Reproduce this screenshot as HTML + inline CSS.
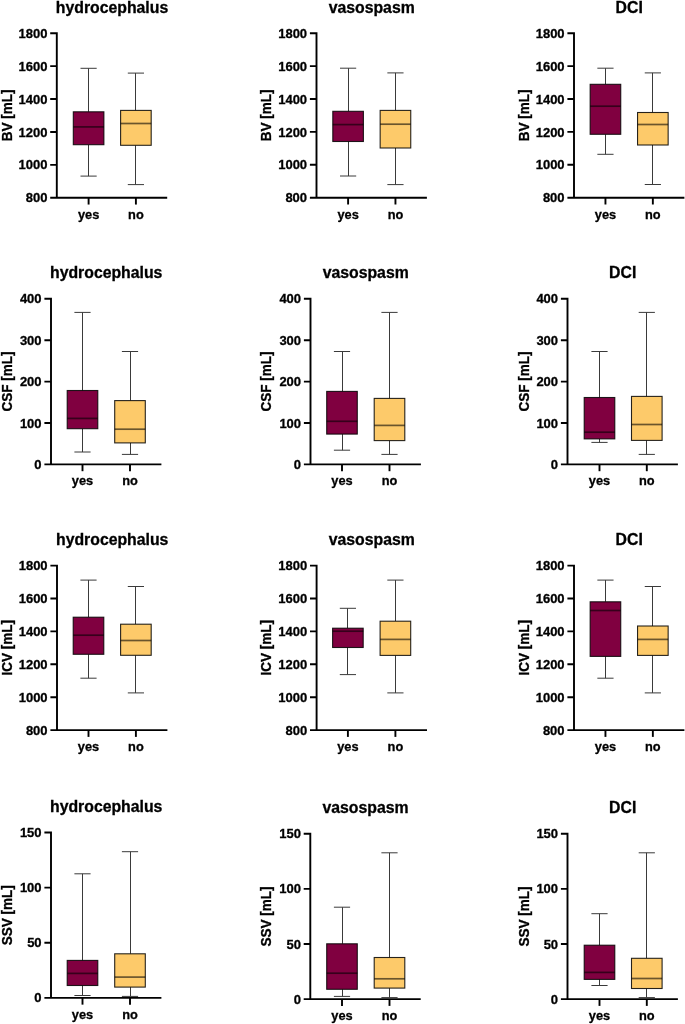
<!DOCTYPE html>
<html><head><meta charset="utf-8"><title>Box plots</title>
<style>
html,body{margin:0;padding:0;background:#fff;}
svg{display:block;}
text{font-family:"Liberation Sans",Arial,sans-serif;font-weight:bold;fill:#000;stroke:#000;stroke-width:.3px;}
.t{font-size:15.8px;text-anchor:middle;}
.yl{font-size:13.5px;text-anchor:middle;}
.tl{font-size:13px;text-anchor:end;}
.xl{font-size:12.8px;text-anchor:middle;}
.a{stroke:#000;stroke-width:1.9;fill:none;}
.w{stroke:#3a3a3a;stroke-width:1;fill:none;}
.b{stroke:#000;stroke-opacity:.85;stroke-width:1.1;}
.m{stroke:#000;stroke-opacity:.58;stroke-width:1.7;fill:none;}
</style></head>
<body>
<svg width="685" height="1024" viewBox="0 0 685 1024">
<rect width="685" height="1024" fill="#fff"/>
<text class="t" x="112" y="12.5">hydrocephalus</text>
<text class="yl" transform="translate(11.8 115.47) rotate(-90) scale(1 1.05)">BV [mL]</text>
<path class="w" d="M88.5 68.3V111.8M88.5 144.7V176.1M80.5 68.3H96.7M80.5 176.1H96.7"/>
<rect class="b" x="73.3" y="111.8" width="30.6" height="32.9" fill="#800040"/>
<path class="m" d="M73.3 126.9H103.9"/>
<path class="a" d="M88.6 197.75V204.55"/>
<text class="xl" x="88.6" y="218.55">yes</text>
<path class="w" d="M135.5 73.1V110.4M135.5 145.3V184.6M127.8 73.1H144M127.8 184.6H144"/>
<rect class="b" x="120.6" y="110.4" width="30.6" height="34.9" fill="#FDCA6A"/>
<path class="m" d="M120.6 123.5H151.2"/>
<path class="a" d="M135.9 197.75V204.55"/>
<text class="xl" x="135.9" y="218.55">no</text>
<path class="a" d="M56.8 32.25V197.75M50.2 164.84H56.8M50.2 131.93H56.8M50.2 99.02H56.8M50.2 66.11H56.8M50.2 33.2H56.8M50.2 197.75H167.2"/>
<text class="tl" x="47.4" y="202.35">800</text>
<text class="tl" x="47.4" y="169.44">1000</text>
<text class="tl" x="47.4" y="136.53">1200</text>
<text class="tl" x="47.4" y="103.62">1400</text>
<text class="tl" x="47.4" y="70.71">1600</text>
<text class="tl" x="47.4" y="37.8">1800</text>
<text class="t" x="371.7" y="12.5">vasospasm</text>
<text class="yl" transform="translate(271 115.45) rotate(-90) scale(1 1.05)">BV [mL]</text>
<path class="w" d="M348.5 68.2V111.3M348.5 141.5V176M340 68.2H356.2M340 176H356.2"/>
<rect class="b" x="332.8" y="111.3" width="30.6" height="30.2" fill="#800040"/>
<path class="m" d="M332.8 124.6H363.4"/>
<path class="a" d="M348.1 197.7V204.5"/>
<text class="xl" x="348.1" y="218.5">yes</text>
<path class="w" d="M395.5 72.9V110.4M395.5 148V184.6M387.35 72.9H403.55M387.35 184.6H403.55"/>
<rect class="b" x="380.15" y="110.4" width="30.6" height="37.6" fill="#FDCA6A"/>
<path class="m" d="M380.15 124.2H410.75"/>
<path class="a" d="M395.45 197.7V204.5"/>
<text class="xl" x="395.45" y="218.5">no</text>
<path class="a" d="M316.5 32.25V197.7M309.9 164.8H316.5M309.9 131.9H316.5M309.9 99H316.5M309.9 66.1H316.5M309.9 33.2H316.5M309.9 197.7H426.9"/>
<text class="tl" x="307.1" y="202.3">800</text>
<text class="tl" x="307.1" y="169.4">1000</text>
<text class="tl" x="307.1" y="136.5">1200</text>
<text class="tl" x="307.1" y="103.6">1400</text>
<text class="tl" x="307.1" y="70.7">1600</text>
<text class="tl" x="307.1" y="37.8">1800</text>
<text class="t" x="629.2" y="12.5">DCI</text>
<text class="yl" transform="translate(529 115.45) rotate(-90) scale(1 1.05)">BV [mL]</text>
<path class="w" d="M605.5 68.2V84.3M605.5 134.3V154.3M597.35 68.2H613.55M597.35 154.3H613.55"/>
<rect class="b" x="590.15" y="84.3" width="30.6" height="50" fill="#800040"/>
<path class="m" d="M590.15 106.2H620.75"/>
<path class="a" d="M605.45 197.7V204.5"/>
<text class="xl" x="605.45" y="218.5">yes</text>
<path class="w" d="M652.5 72.9V112.5M652.5 145V184.5M644.75 72.9H660.95M644.75 184.5H660.95"/>
<rect class="b" x="637.55" y="112.5" width="30.6" height="32.5" fill="#FDCA6A"/>
<path class="m" d="M637.55 124.5H668.15"/>
<path class="a" d="M652.85 197.7V204.5"/>
<text class="xl" x="652.85" y="218.5">no</text>
<path class="a" d="M574 32.25V197.7M567.4 164.8H574M567.4 131.9H574M567.4 99H574M567.4 66.1H574M567.4 33.2H574M567.4 197.7H684.4"/>
<text class="tl" x="564.6" y="202.3">800</text>
<text class="tl" x="564.6" y="169.4">1000</text>
<text class="tl" x="564.6" y="136.5">1200</text>
<text class="tl" x="564.6" y="103.6">1400</text>
<text class="tl" x="564.6" y="70.7">1600</text>
<text class="tl" x="564.6" y="37.8">1800</text>
<text class="t" x="106.2" y="278.1">hydrocephalus</text>
<text class="yl" transform="translate(11.8 381.6) rotate(-90) scale(1 1.05)">CSF [mL]</text>
<path class="w" d="M82.5 312.4V390.5M82.5 428.7V452M74.4 312.4H90.6M74.4 452H90.6"/>
<rect class="b" x="67.2" y="390.5" width="30.6" height="38.2" fill="#800040"/>
<path class="m" d="M67.2 418.4H97.8"/>
<path class="a" d="M82.5 464.4V471.2"/>
<text class="xl" x="82.5" y="485.2">yes</text>
<path class="w" d="M130.5 351.5V400.6M130.5 442.9V454.4M121.9 351.5H138.1M121.9 454.4H138.1"/>
<rect class="b" x="114.7" y="400.6" width="30.6" height="42.3" fill="#FDCA6A"/>
<path class="m" d="M114.7 429.2H145.3"/>
<path class="a" d="M130 464.4V471.2"/>
<text class="xl" x="130" y="485.2">no</text>
<path class="a" d="M51 297.85V464.4M44.4 423H51M44.4 381.6H51M44.4 340.2H51M44.4 298.8H51M44.4 464.4H161.4"/>
<text class="tl" x="41.6" y="469">0</text>
<text class="tl" x="41.6" y="427.6">100</text>
<text class="tl" x="41.6" y="386.2">200</text>
<text class="tl" x="41.6" y="344.8">300</text>
<text class="tl" x="41.6" y="303.4">400</text>
<text class="t" x="365.7" y="278.1">vasospasm</text>
<text class="yl" transform="translate(271 381.6) rotate(-90) scale(1 1.05)">CSF [mL]</text>
<path class="w" d="M342.5 351.5V391.4M342.5 434.1V450.2M333.9 351.5H350.1M333.9 450.2H350.1"/>
<rect class="b" x="326.7" y="391.4" width="30.6" height="42.7" fill="#800040"/>
<path class="m" d="M326.7 421.3H357.3"/>
<path class="a" d="M342 464.4V471.2"/>
<text class="xl" x="342" y="485.2">yes</text>
<path class="w" d="M389.5 312.4V398.4M389.5 440.6V454.4M381.4 312.4H397.6M381.4 454.4H397.6"/>
<rect class="b" x="374.2" y="398.4" width="30.6" height="42.2" fill="#FDCA6A"/>
<path class="m" d="M374.2 425.4H404.8"/>
<path class="a" d="M389.5 464.4V471.2"/>
<text class="xl" x="389.5" y="485.2">no</text>
<path class="a" d="M310.5 297.85V464.4M303.9 423H310.5M303.9 381.6H310.5M303.9 340.2H310.5M303.9 298.8H310.5M303.9 464.4H420.9"/>
<text class="tl" x="301.1" y="469">0</text>
<text class="tl" x="301.1" y="427.6">100</text>
<text class="tl" x="301.1" y="386.2">200</text>
<text class="tl" x="301.1" y="344.8">300</text>
<text class="tl" x="301.1" y="303.4">400</text>
<text class="t" x="622.7" y="278.1">DCI</text>
<text class="yl" transform="translate(529 381.6) rotate(-90) scale(1 1.05)">CSF [mL]</text>
<path class="w" d="M599.5 351.5V397.5M599.5 438.9V442.4M591.4 351.5H607.6M591.4 442.4H607.6"/>
<rect class="b" x="584.2" y="397.5" width="30.6" height="41.4" fill="#800040"/>
<path class="m" d="M584.2 432.2H614.8"/>
<path class="a" d="M599.5 464.4V471.2"/>
<text class="xl" x="599.5" y="485.2">yes</text>
<path class="w" d="M646.5 312.4V396.4M646.5 440.4V454.4M638.7 312.4H654.9M638.7 454.4H654.9"/>
<rect class="b" x="631.5" y="396.4" width="30.6" height="44" fill="#FDCA6A"/>
<path class="m" d="M631.5 424.5H662.1"/>
<path class="a" d="M646.8 464.4V471.2"/>
<text class="xl" x="646.8" y="485.2">no</text>
<path class="a" d="M567.5 297.85V464.4M560.9 423H567.5M560.9 381.6H567.5M560.9 340.2H567.5M560.9 298.8H567.5M560.9 464.4H677.9"/>
<text class="tl" x="558.1" y="469">0</text>
<text class="tl" x="558.1" y="427.6">100</text>
<text class="tl" x="558.1" y="386.2">200</text>
<text class="tl" x="558.1" y="344.8">300</text>
<text class="tl" x="558.1" y="303.4">400</text>
<text class="t" x="112.2" y="544.9">hydrocephalus</text>
<text class="yl" transform="translate(11.8 647.85) rotate(-90) scale(1 1.05)">ICV [mL]</text>
<path class="w" d="M88.5 580.1V617.2M88.5 654.3V678.2M80.4 580.1H96.6M80.4 678.2H96.6"/>
<rect class="b" x="73.2" y="617.2" width="30.6" height="37.1" fill="#800040"/>
<path class="m" d="M73.2 635.2H103.8"/>
<path class="a" d="M88.5 730.1V736.9"/>
<text class="xl" x="88.5" y="750.9">yes</text>
<path class="w" d="M135.5 586.5V624.2M135.5 655.3V692.9M127.8 586.5H144M127.8 692.9H144"/>
<rect class="b" x="120.6" y="624.2" width="30.6" height="31.1" fill="#FDCA6A"/>
<path class="m" d="M120.6 640.5H151.2"/>
<path class="a" d="M135.9 730.1V736.9"/>
<text class="xl" x="135.9" y="750.9">no</text>
<path class="a" d="M57 564.65V730.1M50.4 697.2H57M50.4 664.3H57M50.4 631.4H57M50.4 598.5H57M50.4 565.6H57M50.4 730.1H167.4"/>
<text class="tl" x="47.6" y="734.7">800</text>
<text class="tl" x="47.6" y="701.8">1000</text>
<text class="tl" x="47.6" y="668.9">1200</text>
<text class="tl" x="47.6" y="636">1400</text>
<text class="tl" x="47.6" y="603.1">1600</text>
<text class="tl" x="47.6" y="570.2">1800</text>
<text class="t" x="371.8" y="544.9">vasospasm</text>
<text class="yl" transform="translate(271 647.85) rotate(-90) scale(1 1.05)">ICV [mL]</text>
<path class="w" d="M347.5 608.3V628.2M347.5 647.5V674.6M339.8 608.3H356M339.8 674.6H356"/>
<rect class="b" x="332.6" y="628.2" width="30.6" height="19.3" fill="#800040"/>
<path class="m" d="M332.6 631.2H363.2"/>
<path class="a" d="M347.9 730.1V736.9"/>
<text class="xl" x="347.9" y="750.9">yes</text>
<path class="w" d="M395.5 580.1V621.2M395.5 655.4V692.9M387.3 580.1H403.5M387.3 692.9H403.5"/>
<rect class="b" x="380.1" y="621.2" width="30.6" height="34.2" fill="#FDCA6A"/>
<path class="m" d="M380.1 639.4H410.7"/>
<path class="a" d="M395.4 730.1V736.9"/>
<text class="xl" x="395.4" y="750.9">no</text>
<path class="a" d="M316.6 564.65V730.1M310 697.2H316.6M310 664.3H316.6M310 631.4H316.6M310 598.5H316.6M310 565.6H316.6M310 730.1H427"/>
<text class="tl" x="307.2" y="734.7">800</text>
<text class="tl" x="307.2" y="701.8">1000</text>
<text class="tl" x="307.2" y="668.9">1200</text>
<text class="tl" x="307.2" y="636">1400</text>
<text class="tl" x="307.2" y="603.1">1600</text>
<text class="tl" x="307.2" y="570.2">1800</text>
<text class="t" x="629.2" y="544.9">DCI</text>
<text class="yl" transform="translate(529 647.85) rotate(-90) scale(1 1.05)">ICV [mL]</text>
<path class="w" d="M605.5 580.1V601.8M605.5 656.4V678.2M597.35 580.1H613.55M597.35 678.2H613.55"/>
<rect class="b" x="590.15" y="601.8" width="30.6" height="54.6" fill="#800040"/>
<path class="m" d="M590.15 610.5H620.75"/>
<path class="a" d="M605.45 730.1V736.9"/>
<text class="xl" x="605.45" y="750.9">yes</text>
<path class="w" d="M652.5 586.5V626M652.5 655.4V692.9M644.75 586.5H660.95M644.75 692.9H660.95"/>
<rect class="b" x="637.55" y="626" width="30.6" height="29.4" fill="#FDCA6A"/>
<path class="m" d="M637.55 639.4H668.15"/>
<path class="a" d="M652.85 730.1V736.9"/>
<text class="xl" x="652.85" y="750.9">no</text>
<path class="a" d="M574 564.65V730.1M567.4 697.2H574M567.4 664.3H574M567.4 631.4H574M567.4 598.5H574M567.4 565.6H574M567.4 730.1H684.4"/>
<text class="tl" x="564.6" y="734.7">800</text>
<text class="tl" x="564.6" y="701.8">1000</text>
<text class="tl" x="564.6" y="668.9">1200</text>
<text class="tl" x="564.6" y="636">1400</text>
<text class="tl" x="564.6" y="603.1">1600</text>
<text class="tl" x="564.6" y="570.2">1800</text>
<text class="t" x="106.2" y="811.8">hydrocephalus</text>
<text class="yl" transform="translate(11.8 915.17) rotate(-90) scale(1 1.05)">SSV [mL]</text>
<path class="w" d="M82.5 873.8V960.4M82.5 985.5V995.5M74.4 873.8H90.6M74.4 995.5H90.6"/>
<rect class="b" x="67.2" y="960.4" width="30.6" height="25.1" fill="#800040"/>
<path class="m" d="M67.2 973.4H97.8"/>
<path class="a" d="M82.5 997.85V1004.65"/>
<text class="xl" x="82.5" y="1018.65">yes</text>
<path class="w" d="M130.5 851.7V953.8M130.5 987.1V996.4M121.9 851.7H138.1M121.9 996.4H138.1"/>
<rect class="b" x="114.7" y="953.8" width="30.6" height="33.3" fill="#FDCA6A"/>
<path class="m" d="M114.7 977.1H145.3"/>
<path class="a" d="M130 997.85V1004.65"/>
<text class="xl" x="130" y="1018.65">no</text>
<path class="a" d="M51 831.55V997.85M44.4 942.73H51M44.4 887.62H51M44.4 832.5H51M44.4 997.85H161.4"/>
<text class="tl" x="41.6" y="1002.45">0</text>
<text class="tl" x="41.6" y="947.33">50</text>
<text class="tl" x="41.6" y="892.22">100</text>
<text class="tl" x="41.6" y="837.1">150</text>
<text class="t" x="365.5" y="813">vasospasm</text>
<text class="yl" transform="translate(271 916.4) rotate(-90) scale(1 1.05)">SSV [mL]</text>
<path class="w" d="M342.5 907.2V943.8M342.5 989.3V996.4M333.9 907.2H350.1M333.9 996.4H350.1"/>
<rect class="b" x="326.7" y="943.8" width="30.6" height="45.5" fill="#800040"/>
<path class="m" d="M326.7 973.2H357.3"/>
<path class="a" d="M342 999.1V1005.9"/>
<text class="xl" x="342" y="1019.9">yes</text>
<path class="w" d="M389.5 852.8V957.5M389.5 988.1V997.6M381.4 852.8H397.6M381.4 997.6H397.6"/>
<rect class="b" x="374.2" y="957.5" width="30.6" height="30.6" fill="#FDCA6A"/>
<path class="m" d="M374.2 978.8H404.8"/>
<path class="a" d="M389.5 999.1V1005.9"/>
<text class="xl" x="389.5" y="1019.9">no</text>
<path class="a" d="M310.3 832.75V999.1M303.7 943.97H310.3M303.7 888.83H310.3M303.7 833.7H310.3M303.7 999.1H420.7"/>
<text class="tl" x="300.9" y="1003.7">0</text>
<text class="tl" x="300.9" y="948.57">50</text>
<text class="tl" x="300.9" y="893.43">100</text>
<text class="tl" x="300.9" y="838.3">150</text>
<text class="t" x="622.7" y="813">DCI</text>
<text class="yl" transform="translate(529 916.4) rotate(-90) scale(1 1.05)">SSV [mL]</text>
<path class="w" d="M599.5 913.7V945.2M599.5 979.4V985.5M591.4 913.7H607.6M591.4 985.5H607.6"/>
<rect class="b" x="584.2" y="945.2" width="30.6" height="34.2" fill="#800040"/>
<path class="m" d="M584.2 972.4H614.8"/>
<path class="a" d="M599.5 999.1V1005.9"/>
<text class="xl" x="599.5" y="1019.9">yes</text>
<path class="w" d="M646.5 852.8V958.3M646.5 988.5V997.6M638.7 852.8H654.9M638.7 997.6H654.9"/>
<rect class="b" x="631.5" y="958.3" width="30.6" height="30.2" fill="#FDCA6A"/>
<path class="m" d="M631.5 978.5H662.1"/>
<path class="a" d="M646.8 999.1V1005.9"/>
<text class="xl" x="646.8" y="1019.9">no</text>
<path class="a" d="M567.5 832.75V999.1M560.9 943.97H567.5M560.9 888.83H567.5M560.9 833.7H567.5M560.9 999.1H677.9"/>
<text class="tl" x="558.1" y="1003.7">0</text>
<text class="tl" x="558.1" y="948.57">50</text>
<text class="tl" x="558.1" y="893.43">100</text>
<text class="tl" x="558.1" y="838.3">150</text>
</svg>
</body></html>
